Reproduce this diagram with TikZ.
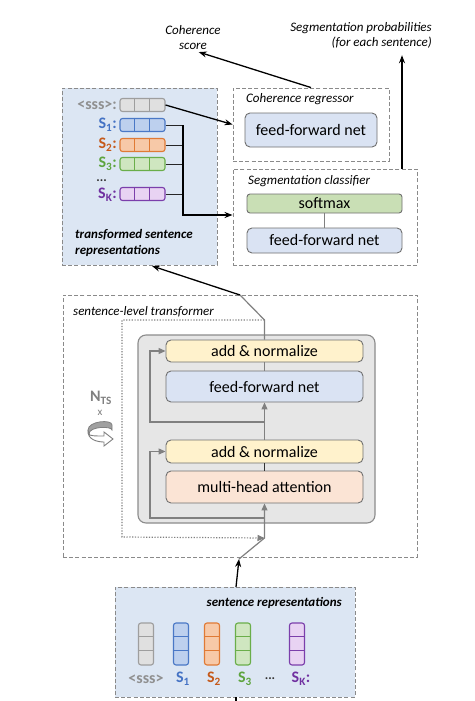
\documentclass[tikz,border=0pt]{standalone}
\usepackage{fontspec}
\setmainfont{Carlito}
\usetikzlibrary{arrows.meta}
\definecolor{dashgray}{HTML}{8A8A8A}
\definecolor{tsrfill}{HTML}{DCE6F3}
\definecolor{fffill}{HTML}{DAE3F3}
\definecolor{boxdraw}{HTML}{707070}
\definecolor{smfill}{HTML}{C9DFB5}
\definecolor{anfill}{HTML}{FFF2CC}
\definecolor{mhafill}{HTML}{FBE4D5}
\definecolor{gboxfill}{HTML}{E6E6E6}
\definecolor{gboxdraw}{HTML}{8C8C8C}
\definecolor{gline}{HTML}{808080}
\definecolor{vgrayF}{HTML}{E0E0E0}\definecolor{vgrayD}{HTML}{9E9E9E}
\definecolor{vblueF}{HTML}{BDD0EE}\definecolor{vblueD}{HTML}{4A78C6}
\definecolor{voranF}{HTML}{F7C9A8}\definecolor{voranD}{HTML}{E07A35}
\definecolor{vgreenF}{HTML}{CFE6C0}\definecolor{vgreenD}{HTML}{6AAE4A}
\definecolor{vpurpF}{HTML}{E8D3F3}\definecolor{vpurpD}{HTML}{7B3FAB}
\definecolor{lblue}{HTML}{4472C4}
\definecolor{lorange}{HTML}{C5591A}
\definecolor{lgreen}{HTML}{5DA43E}
\definecolor{lpurple}{HTML}{7030A0}
\definecolor{lgray}{HTML}{8F8F8F}
\newcommand\hvec[4]{%
  \node[hv, fill=#3, draw=#4] (#1) at (142.5,#2) {};
  \draw[#4, line width=1.1pt] ([xshift=15pt]#1.north west) -- ([xshift=15pt]#1.south west);
  \draw[#4, line width=1.1pt] ([xshift=30pt]#1.north west) -- ([xshift=30pt]#1.south west);}
\newcommand\vvec[4]{%
  \node[vv, fill=#3, draw=#4] (#1) at (#2,644) {};
  \draw[#4, line width=1.1pt] ([yshift=-14pt]#1.north west) -- ([yshift=-14pt]#1.north east);
  \draw[#4, line width=1.1pt] ([yshift=-28pt]#1.north west) -- ([yshift=-28pt]#1.north east);}
\begin{document}
\begin{tikzpicture}[x=1pt,y=-1pt,
  dbox/.style={draw=dashgray, line width=0.9pt, dash pattern=on 4pt off 2.2pt, inner sep=0pt},
  rbox/.style={draw=boxdraw, line width=0.9pt, rounded corners=5pt, inner sep=0pt, font=\fontsize{16}{18}\selectfont},
  title/.style={font=\itshape\fontsize{13}{15}\selectfont, inner sep=0pt},
  hv/.style={minimum width=45pt, minimum height=13pt, rounded corners=2.5pt, line width=1.1pt, inner sep=0pt},
  vv/.style={minimum width=15pt, minimum height=42pt, rounded corners=2.5pt, line width=1.1pt, inner sep=0pt},
  blk/.style={black, line width=1.3pt, -{Stealth[length=8pt,width=6pt]}},
  gl/.style={gline, line width=1.2pt},
  gtip/.style={-{Triangle[length=7pt,width=6pt]}},
  lab/.style={font=\bfseries\fontsize{16}{17}\selectfont, inner sep=0pt}
]
\useasboundingbox (0,0) rectangle (474,701);
\fill[white] (0,0) rectangle (474,701);

% ---- top outputs
\node[title, align=center] (cohtxt) at (193,38) {Coherence\\score};
\node[title, align=right, anchor=north east] (segtxt) at (432,22) {Segmentation probabilities\\(for each sentence)};

% ---- transformed sentence representations
\node[dbox, fill=tsrfill, minimum width=155pt, minimum height=177pt] (tsr) at (139.5,176.5) {};
\hvec{v0}{105}{vgrayF}{vgrayD}
\hvec{v1}{125}{vblueF}{vblueD}
\hvec{v2}{145}{voranF}{voranD}
\hvec{v3}{164}{vgreenF}{vgreenD}
\hvec{vk}{194}{vpurpF}{vpurpD}
\node[lab, lgray, anchor=east] (l0) at (117,105) {<sss>:};
\node[lab, lblue, anchor=east] (l1) at (117,125) {S\textsubscript{1}:};
\node[lab, lorange, anchor=east] (l2) at (117,145) {S\textsubscript{2}:};
\node[lab, lgreen, anchor=east] (l3) at (117,164) {S\textsubscript{3}:};
\node[inner sep=0pt, font=\bfseries\fontsize{13}{13}\selectfont, black!80, anchor=east] (ld) at (107,181) {...};
\node[lab, lpurple, anchor=east] (lk) at (117,195) {S\textsubscript{K}:};
\node[title, font=\bfseries\itshape\fontsize{13}{16}\selectfont, align=left, anchor=north west] (tsrtxt) at (75,229) {transformed sentence\\representations};

% ---- coherence regressor
\node[dbox, fill=white, minimum width=156pt, minimum height=73pt] (cr) at (311,124.5) {};
\node[title, anchor=west] (crt) at (246,99) {Coherence regressor};
\node[rbox, fill=fffill, minimum width=132pt, minimum height=34pt] (ff1) at (311,130) {feed-forward net};

% ---- segmentation classifier
\node[dbox, fill=white, minimum width=184pt, minimum height=96pt] (sc) at (325,217) {};
\node[title, anchor=west] (sct) at (248,181) {Segmentation classifier};
\node[rbox, fill=smfill, rounded corners=3pt, minimum width=155pt, minimum height=19pt] (sm) at (324.5,203.5) {softmax};
\node[rbox, fill=fffill, minimum width=155pt, minimum height=25pt] (ff3) at (324.5,240.5) {feed-forward net};
\draw[gl] (sm.south) -- (ff3.north);

% ---- connectors top
\coordinate (jn) at (183,215);
\coordinate (sx) at (402,0);
\foreach \v in {v1,v2,v3,vk} \draw[black!85, line width=0.9pt] (\v.east) -- (\v.east -| jn);
\draw[blk] (v1.east -| jn) -- (jn) -- (sc.west |- jn);
\draw[blk] (v0.east) -- (cr.west);
\draw[blk, shorten >=6pt] (cr.north) -- (cohtxt.south);
\draw[blk, shorten >=7pt] (sc.north -| sx) -- (segtxt.south -| sx);

% ---- sentence-level transformer
\node[dbox, minimum width=354pt, minimum height=262pt] (slt) at (240,426) {};
\node[title, anchor=west] (sltt) at (73,312) {sentence-level transformer};
\node[draw=gboxdraw, fill=gboxfill, line width=1.1pt, rounded corners=8pt, minimum width=237pt, minimum height=188pt] (gbox) at (256.5,429) {};
\node[rbox, fill=anfill, minimum width=197pt, minimum height=22pt] (an2) at (264.5,351) {add \& normalize};
\node[rbox, fill=fffill, minimum width=197pt, minimum height=31pt] (ff2) at (264.5,386.5) {feed-forward net};
\node[rbox, fill=anfill, minimum width=197pt, minimum height=23pt] (an1) at (264.5,451.5) {add \& normalize};
\node[rbox, fill=mhafill, minimum width=197pt, minimum height=32pt] (mha) at (264.5,487) {multi-head attention};

\coordinate (in1) at (239,559);
\coordinate (in2) at (264.5,538);
\coordinate (out2) at (264.5,320);
\coordinate (out1) at (240,295);
\coordinate (tsrin) at (152,266);
\coordinate (r1) at (264.5,518);
\coordinate (r2) at (264.5,422);

\draw[gline, line width=1.2pt, dash pattern=on 1.2pt off 1.6pt, gtip] (out2) -- (122,320) -- (122,537) -- (in2);
\draw[gl, gtip] (in1) -- (in2) -- (mha.south);
\draw[black!80, line width=1.2pt] (mha.north) -- (an1.south);
\draw[gl, gtip] (an1.north) -- (ff2.south);
\draw[gl] (ff2.north) -- (an2.south);
\draw[gl] (an2.north) -- (out2) -- (out1);
\draw[gl, gtip] (r1) -- (150,518) |- (an1.west);
\draw[gl, gtip] (r2) -- (150,422) |- (an2.west);
\draw[blk] (out1) -- (tsrin);

% ---- N_TS icon
\node[inner sep=0pt, text=gline, font=\bfseries\fontsize{16}{17}\selectfont] (nts) at (101,398) {N\textsubscript{TS}};
\node[inner sep=0pt, text=gline, font=\fontsize{11}{12}\selectfont] (ntx) at (100,413) {x};
\fill[gline!75, draw=gline, line width=0.8pt] (88,430) .. controls (88,421) and (112,419) .. (112,425) -- (112,430) .. controls (112,426) and (89,426) .. (89,434) -- cycle;
\draw[gline, fill=white, line width=0.9pt] (88,430) .. controls (87,440) and (98,442) .. (104,442) -- (104,446) -- (113,439) -- (104,432) -- (104,436) .. controls (96,436) and (89,436) .. (89,434) -- cycle;

% ---- sentence representations
\node[dbox, fill=tsrfill, minimum width=240pt, minimum height=110pt] (sr) at (235,642) {};
\node[title, font=\bfseries\itshape\fontsize{13}{16}\selectfont, anchor=east] (srt) at (342,603) {sentence representations};
\vvec{u0}{146}{vgrayF}{vgrayD}
\vvec{u1}{181}{vblueF}{vblueD}
\vvec{u2}{212}{voranF}{voranD}
\vvec{u3}{243}{vgreenF}{vgreenD}
\vvec{uk}{297}{vpurpF}{vpurpD}
\node[lab, lgray] (m0) at (146,679) {<sss>};
\node[lab, lblue] (m1) at (183,679) {S\textsubscript{1}};
\node[lab, lorange] (m2) at (214,679) {S\textsubscript{2}};
\node[lab, lgreen] (m3) at (245,679) {S\textsubscript{3}};
\node[inner sep=0pt, font=\bfseries\fontsize{13}{13}\selectfont, black!80] (md) at (270,679) {...};
\node[lab, lpurple] (mk) at (301,679) {S\textsubscript{K}:};
\coordinate (srin) at (236,587);
\draw[blk] (srin) -- (in1);
\draw[black, line width=1.2pt] (sr.south -| srin) -- ++(0,5);
\end{tikzpicture}
\end{document}
